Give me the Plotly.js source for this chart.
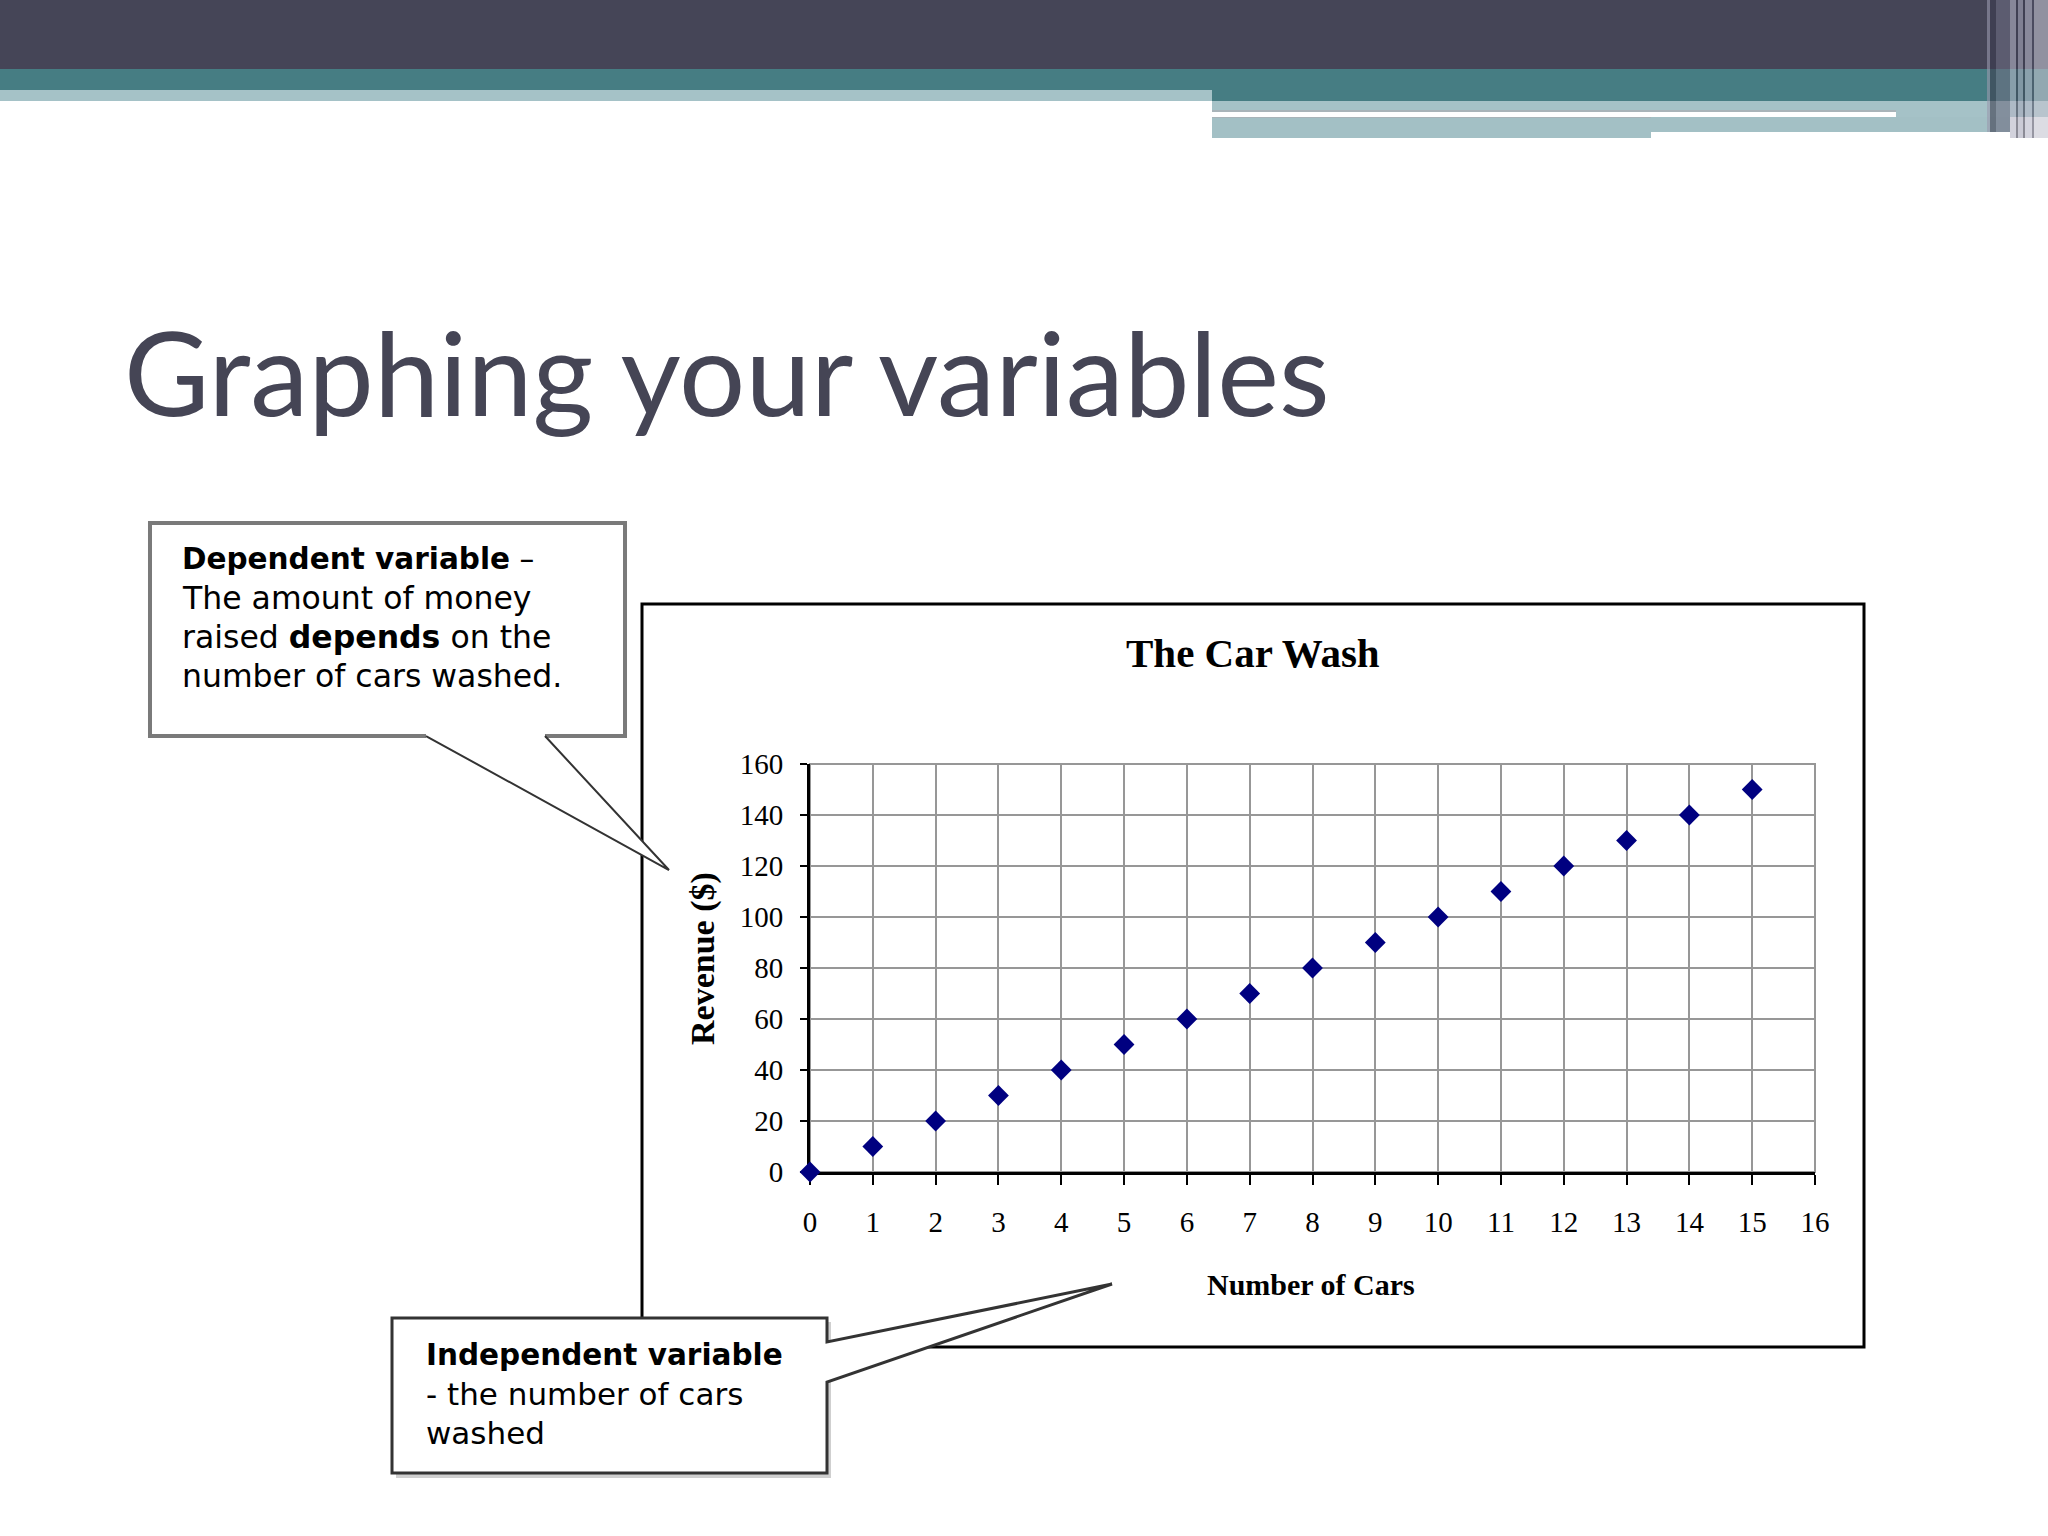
<!DOCTYPE html>
<html><head><meta charset="utf-8">
<script src="https://cdn.plot.ly/plotly-3.0.1.min.js"></script>
<style>html,body{margin:0;padding:0;background:#fff;} #chart{width:2048px;height:1536px;}</style>
</head><body><div id="chart"></div>
<script>
// ---- data ----
const carsWashed = [0, 1, 2, 3, 4, 5, 6, 7, 8, 9, 10, 11, 12, 13, 14, 15];
const revenue = [0, 10, 20, 30, 40, 50, 60, 70, 80, 90, 100, 110, 120, 130, 140, 150];
const xTickVals = [0, 1, 2, 3, 4, 5, 6, 7, 8, 9, 10, 11, 12, 13, 14, 15, 16];
const yTickVals = [0, 20, 40, 60, 80, 100, 120, 140, 160];
const slideTitle = "Graphing your variables";
const chartTitle = "The Car Wash";
const xTitle = "Number of Cars";
const yTitle = "Revenue ($)";
const dependentLines = ["<b>Dependent variable</b> –", "The amount of money", "raised <b>depends</b> on the", "number of cars washed."];
const independentLines = ["<b>Independent variable</b>", "- the number of cars", "washed"];

// ---- layout helpers ----
const W = 2048, H = 1536;
const px = x => x / W;
const py = y => 1 - y / H;
const path = pts => pts.map((p, i) => (i ? 'L' : 'M') + px(p[0]).toFixed(5) + ',' + py(p[1]).toFixed(5)).join(' ');
const rect = (x0, y0, x1, y1, fill, opacity) => ({type: 'rect', xref: 'paper', yref: 'paper', x0: px(x0), x1: px(x1), y0: py(y1), y1: py(y0), fillcolor: fill, opacity: opacity === undefined ? 1 : opacity, line: {width: 0}, layer: 'below'});

const shapes = [];
// top banner
shapes.push(rect(0, 0, 2048, 69, '#454557'));
shapes.push(rect(0, 69, 2048, 90, '#467d83'));
shapes.push(rect(1212, 90, 2048, 101, '#467d83'));
shapes.push(rect(0, 90, 1212, 101, '#a5c2c7'));
shapes.push(rect(1212, 101, 2048, 111, '#a5c2c7'));
shapes.push(rect(1896, 111, 2048, 117, '#a5c2c7'));
shapes.push(rect(1212, 110, 1896, 112, '#a9b4b9'));
shapes.push(rect(1212, 117, 1896, 118, '#a9b4b9'));
shapes.push(rect(1212, 118, 1651, 138, '#a3c0c5'));
shapes.push(rect(1651, 117, 2010, 132, '#a3c0c5'));
// right vertical stripes
const stripes = [[1987, 1990, '#9a9aae', 132], [1990, 1996, '#3c3c4e', 132], [1996, 2010, '#6c6c80', 132], [2010, 2016, '#b4b4c4', 138], [2016, 2018, '#3e3e50', 138], [2018, 2023, '#a8a8ba', 138], [2023, 2025, '#3e3e50', 138], [2025, 2032, '#b8b8c8', 138], [2032, 2034, '#505064', 138], [2034, 2048, '#c4c4d0', 138]];
stripes.forEach(s => shapes.push(rect(s[0], 0, s[1], s[3], s[2], 0.6)));

// plot-area frame (top and right edges in grid grey)
shapes.push({type: 'rect', xref: 'x domain', yref: 'y domain', x0: 0, x1: 1, y0: 0, y1: 1, line: {color: '#979797', width: 2}, fillcolor: 'rgba(0,0,0,0)', layer: 'below'});

// chart frame
shapes.push({type: 'rect', xref: 'paper', yref: 'paper', x0: px(642), x1: px(1864), y0: py(1347), y1: py(604), line: {color: '#000', width: 3}, fillcolor: 'rgba(0,0,0,0)', layer: 'above'});

// callout 1 (dependent)
shapes.push({type: 'path', xref: 'paper', yref: 'paper', path: path([[150, 523], [625, 523], [625, 736], [545, 736], [669, 870], [426, 736], [150, 736]]) + ' Z', fillcolor: '#fff', line: {width: 0}, layer: 'above'});
shapes.push({type: 'path', xref: 'paper', yref: 'paper', path: path([[426, 736], [150, 736], [150, 523], [625, 523], [625, 736], [545, 736]]), fillcolor: 'rgba(0,0,0,0)', line: {color: '#7a7a7a', width: 4}, layer: 'above'});
shapes.push({type: 'path', xref: 'paper', yref: 'paper', path: path([[426, 736], [669, 870], [545, 736]]), fillcolor: 'rgba(0,0,0,0)', line: {color: '#333', width: 2}, layer: 'above'});

// callout 2 (independent)
shapes.push({type: 'rect', xref: 'paper', yref: 'paper', x0: px(396), x1: px(831), y0: py(1478), y1: py(1322), fillcolor: '#cfcfcf', line: {width: 0}, layer: 'above'});
shapes.push({type: 'path', xref: 'paper', yref: 'paper', path: path([[392, 1318], [827, 1318], [827, 1342], [1112, 1284], [827, 1382], [827, 1473], [392, 1473]]) + ' Z', fillcolor: '#fff', line: {color: '#333', width: 3}, layer: 'above'});

const annotations = [];
annotations.push({xref: 'paper', yref: 'paper', x: px(122), y: py(371), xanchor: 'left', yanchor: 'middle', showarrow: false, text: slideTitle, font: {family: 'Lato', size: 117, color: '#454555'}});
annotations.push({xref: 'paper', yref: 'paper', x: px(1253), y: py(653), xanchor: 'center', yanchor: 'middle', showarrow: false, text: '<b>' + chartTitle + '</b>', font: {family: 'Liberation Serif', size: 41, color: '#000'}});
annotations.push({xref: 'paper', yref: 'paper', x: px(1311), y: py(1284), xanchor: 'center', yanchor: 'middle', showarrow: false, text: '<b>' + xTitle + '</b>', font: {family: 'Liberation Serif', size: 30, color: '#000'}});
annotations.push({xref: 'paper', yref: 'paper', x: px(703), y: py(959), xanchor: 'center', yanchor: 'middle', showarrow: false, textangle: -90, text: '<b>' + yTitle + '</b>', font: {family: 'Liberation Serif', size: 34, color: '#000'}});
const depCenter = [559, 598, 637, 676];
dependentLines.forEach((t, i) => annotations.push({xref: 'paper', yref: 'paper', x: px(180), y: py(depCenter[i]), xanchor: 'left', yanchor: 'middle', showarrow: false, text: t, font: {family: 'DejaVu Sans', size: i === 0 ? 29.5 : 31.5, color: '#000'}}));
const indCenter = [1355, 1394, 1433];
independentLines.forEach((t, i) => annotations.push({xref: 'paper', yref: 'paper', x: px(424), y: py(indCenter[i]), xanchor: 'left', yanchor: 'middle', showarrow: false, text: t, font: {family: 'DejaVu Sans', size: i === 0 ? 29.5 : 31, color: '#000'}}));

const trace = {
  x: carsWashed, y: revenue, type: 'scatter', mode: 'markers', cliponaxis: false,
  marker: {symbol: 'diamond', size: 16, color: '#000080', line: {width: 0}},
  hoverinfo: 'x+y'
};

const axisFont = {family: 'Liberation Serif', size: 29, color: '#000'};
const layout = {
  width: W, height: H,
  margin: {l: 0, r: 0, t: 0, b: 0},
  paper_bgcolor: '#fff', plot_bgcolor: '#fff',
  showlegend: false,
  xaxis: {
    domain: [px(810), px(1815)], range: [0, 16], tickmode: 'array', tickvals: xTickVals,
    showgrid: true, gridcolor: '#979797', gridwidth: 2, zeroline: false,
    showline: true, linecolor: '#000', linewidth: 3,
    ticks: 'outside', ticklen: 10, tickwidth: 2, tickcolor: '#000',
    tickfont: axisFont, ticklabelstandoff: 12, layer: 'below traces', fixedrange: true
  },
  yaxis: {
    domain: [py(1172), py(764)], range: [0, 160], tickmode: 'array', tickvals: yTickVals,
    showgrid: true, gridcolor: '#979797', gridwidth: 2, zeroline: false,
    showline: true, linecolor: '#000', linewidth: 3,
    ticks: 'outside', ticklen: 7, tickwidth: 2, tickcolor: '#000',
    tickfont: axisFont, ticklabelstandoff: 11, layer: 'below traces', fixedrange: true
  },
  shapes: shapes,
  annotations: annotations
};

Plotly.newPlot('chart', [trace], layout, {displayModeBar: false, staticPlot: true});
</script>
</body></html>
